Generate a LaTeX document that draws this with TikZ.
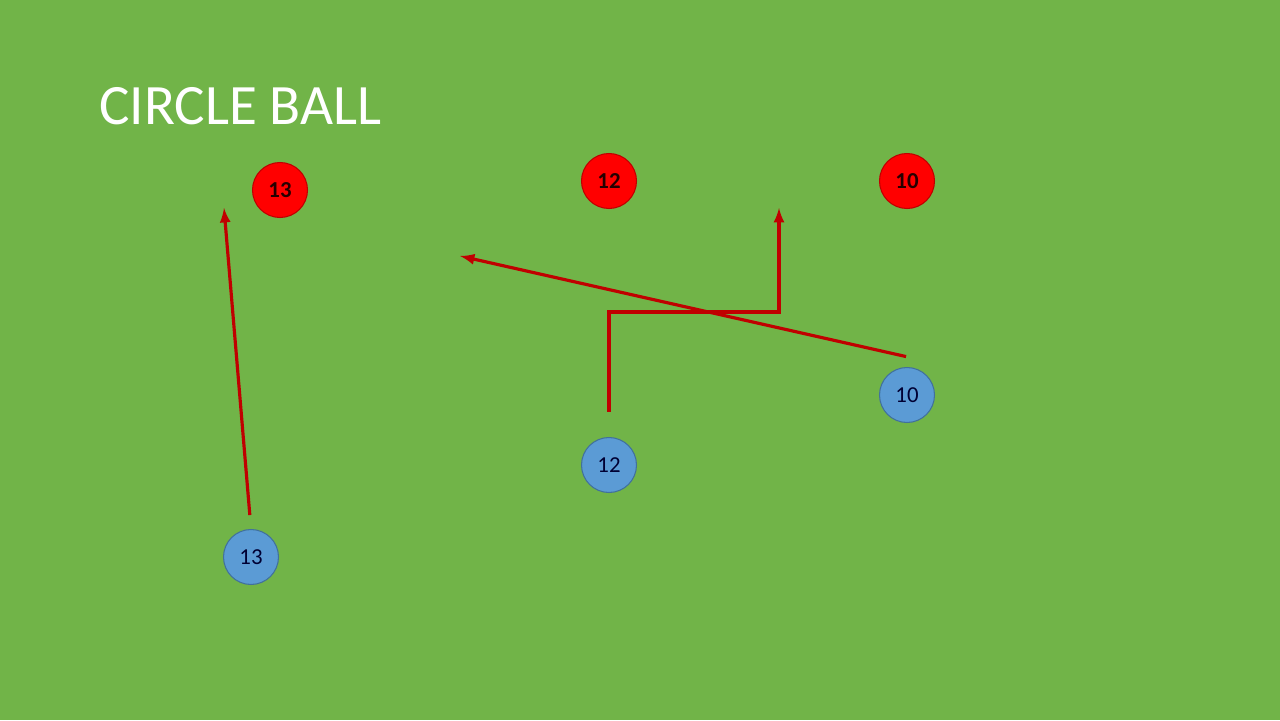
\documentclass[tikz,border=0pt]{standalone}
\usepackage{fontspec}
\setmainfont{Carlito}
\usepackage{tikz}
\usetikzlibrary{arrows,positioning}

\definecolor{pitch}{RGB}{113,180,72}
\definecolor{redfill}{RGB}{255,0,0}
\definecolor{redline}{RGB}{192,0,0}
\definecolor{bluefill}{RGB}{91,155,213}
\definecolor{blueline}{RGB}{65,113,156}

\begin{document}
\begin{tikzpicture}[x=0.02cm, y=-0.02cm, >=latex]
	\tikzstyle{red player}=[circle, draw=redline, fill=redfill, line width=0.6pt,
		minimum size=1.1cm, inner sep=0pt, font=\fontsize{13}{13}\selectfont\bfseries, text=black!85!red]
	\tikzstyle{blue player}=[circle, draw=blueline, fill=bluefill, line width=0.6pt,
		minimum size=1.1cm, inner sep=0pt, font=\fontsize{13}{13}\selectfont, text=black!80!blue]
	\tikzstyle{run}=[draw=redline, line width=1.8pt, ->]
	% % Background
	\fill[pitch] (0,0) rectangle (1280,720);
	\useasboundingbox (0,0) rectangle (1280,720);
	% title
	\node[anchor=base west, inner sep=0pt, text=white,
		  font=\fontsize{32.5}{32.5}\selectfont](title) at (99,124) {CIRCLE BALL};
	% % Nodes
	% red team
	\node[red player](r13) at (280,190) {13};
	\node[red player](r12) at (609,181) {12};
	\node[red player](r10) at (907,181) {10};
	% blue team
	\node[blue player](b13) at (251,557) {13};
	\node[blue player](b12) at (609,465) {12};
	\node[blue player](b10) at (907,395) {10};
	% run targets
	\coordinate (t13) at (224,208);
	\coordinate (t12) at (779,208);
	\coordinate (t10) at (460,256);
	\coordinate (c12) at (609,312);
	% % Connectors
	\draw[run, shorten <=0.28cm] (b13.north) -- (t13);
	\draw[run, shorten <=0.5cm] (b12.north) |- (c12) -| (t12);
	\draw[run, shorten <=0.04cm] ([shift={(1,-38)}]b10.center) -- (t10);
\end{tikzpicture}
\end{document}
